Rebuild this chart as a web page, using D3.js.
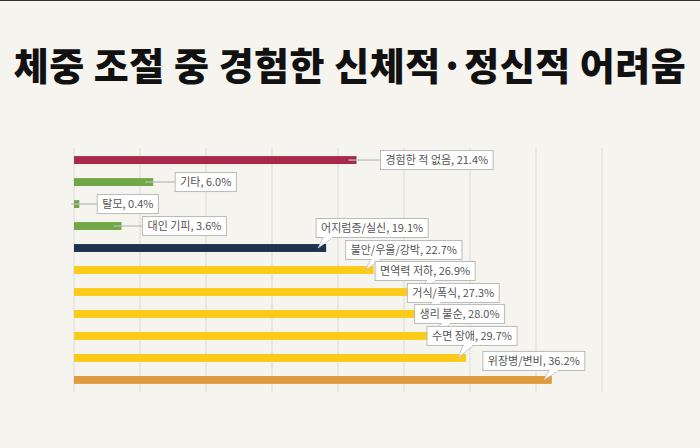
<!DOCTYPE html>
<html><head><meta charset="utf-8">
<script src="https://cdn.jsdelivr.net/npm/d3@7"></script>
<style>body{margin:0;background:#f5f4ee}svg{display:block}</style>
</head><body><svg id="c" width="700" height="448"></svg>
<script>
const labels = ['경험한 적 없음', '기타', '탈모', '대인 기피', '어지럼증/실신', '불안/우울/강박', '면역력 저하', '거식/폭식', '생리 불순', '수면 장애', '위장병/변비'];
const values = [21.4, 6.0, 0.4, 3.6, 19.1, 22.7, 26.9, 27.3, 28.0, 29.7, 36.2];
const groups = ['none', 'etc', 'etc', 'etc', 'navy', 'yellow', 'yellow', 'yellow', 'yellow', 'yellow', 'orange'];
const ticks = [0, 5, 10, 15, 20, 25, 30, 35, 40];
// callout offsets from bar end (dx to box left, dy to box centre)
const calloutDx = [24, 22, 18, 21, -10, -28, -54, -27, -29, -39, -69];
const calloutDy = [0, 0, 0, 0, -20, -20, -21, -21, -22, -22, -19];

const colors = { none: '#a8294a', etc: '#70a845', navy: '#1f3250', yellow: '#fccb1a', orange: '#e09a3e' };
const svg = d3.select('#c');
svg.append('rect').attr('width', 700).attr('height', 448).attr('fill', '#f5f4ee');
svg.append('line').attr('x1', 0).attr('x2', 700).attr('y1', 0.5).attr('y2', 0.5).attr('stroke', '#333');

svg.append('text').attr('x', 350).attr('y', 80).attr('text-anchor', 'middle')
  .attr('font-family', 'Noto Sans CJK KR').attr('font-weight', 900).attr('font-size', 38)
  .attr('letter-spacing', 0.5).attr('fill', '#111').text('체중 조절 중 경험한 신체적·정신적 어려움');

const x = d3.scaleLinear().domain([0, 40]).range([74, 602]);
const y = d3.scaleBand().domain(labels).range([149.5, 390.5]).paddingInner(0.64).paddingOuter(0.3);

svg.append('g').selectAll('line').data(ticks).enter().append('line')
  .attr('x1', d => x(d)).attr('x2', d => x(d)).attr('y1', 148).attr('y2', 392)
  .attr('stroke', '#dcdbd4').attr('stroke-width', 1);

svg.append('g').selectAll('rect').data(values).enter().append('rect')
  .attr('x', x(0)).attr('y', (d, i) => y(labels[i]))
  .attr('width', d => x(d) - x(0)).attr('height', y.bandwidth())
  .attr('fill', (d, i) => colors[groups[i]]);

const call = svg.append('g').attr('font-family', 'Noto Sans CJK KR').attr('font-size', 11);
values.forEach((v, i) => {
  const ex = x(v) - 8, ey = y(labels[i]) + y.bandwidth() / 2;
  const text = `${labels[i]}, ${v.toFixed(1)}%`;
  const bx = x(v) + calloutDx[i], cy = ey + calloutDy[i];
  const g = call.append('g');
  const t = g.append('text').attr('x', bx + 5).attr('y', cy + 4).attr('fill', '#555').text(text);
  const w = t.node().getComputedTextLength() + 10, h = 19;
  // pointer wedge
  const ax = Math.min(Math.max(ex + 10, bx + 6), bx + w - 6);
  const ay = calloutDy[i] < 0 ? cy + h / 2 : cy;
  g.insert('path', 'text')
    .attr('d', `M${ex},${ey}L${ax - 5},${ay}L${ax + 5},${ay}Z`)
    .attr('fill', '#fff').attr('stroke', '#bbb').attr('stroke-width', 0.8);
  g.insert('rect', 'text').attr('x', bx).attr('y', cy - h / 2).attr('width', w).attr('height', h)
    .attr('fill', '#fff').attr('stroke', '#bbb').attr('stroke-width', 1);
  g.insert('path', 'text')
    .attr('d', `M${ax - 4},${ay}L${ax + 4},${ay}`)
    .attr('stroke', '#fff').attr('stroke-width', 2);
});
</script></body></html>
